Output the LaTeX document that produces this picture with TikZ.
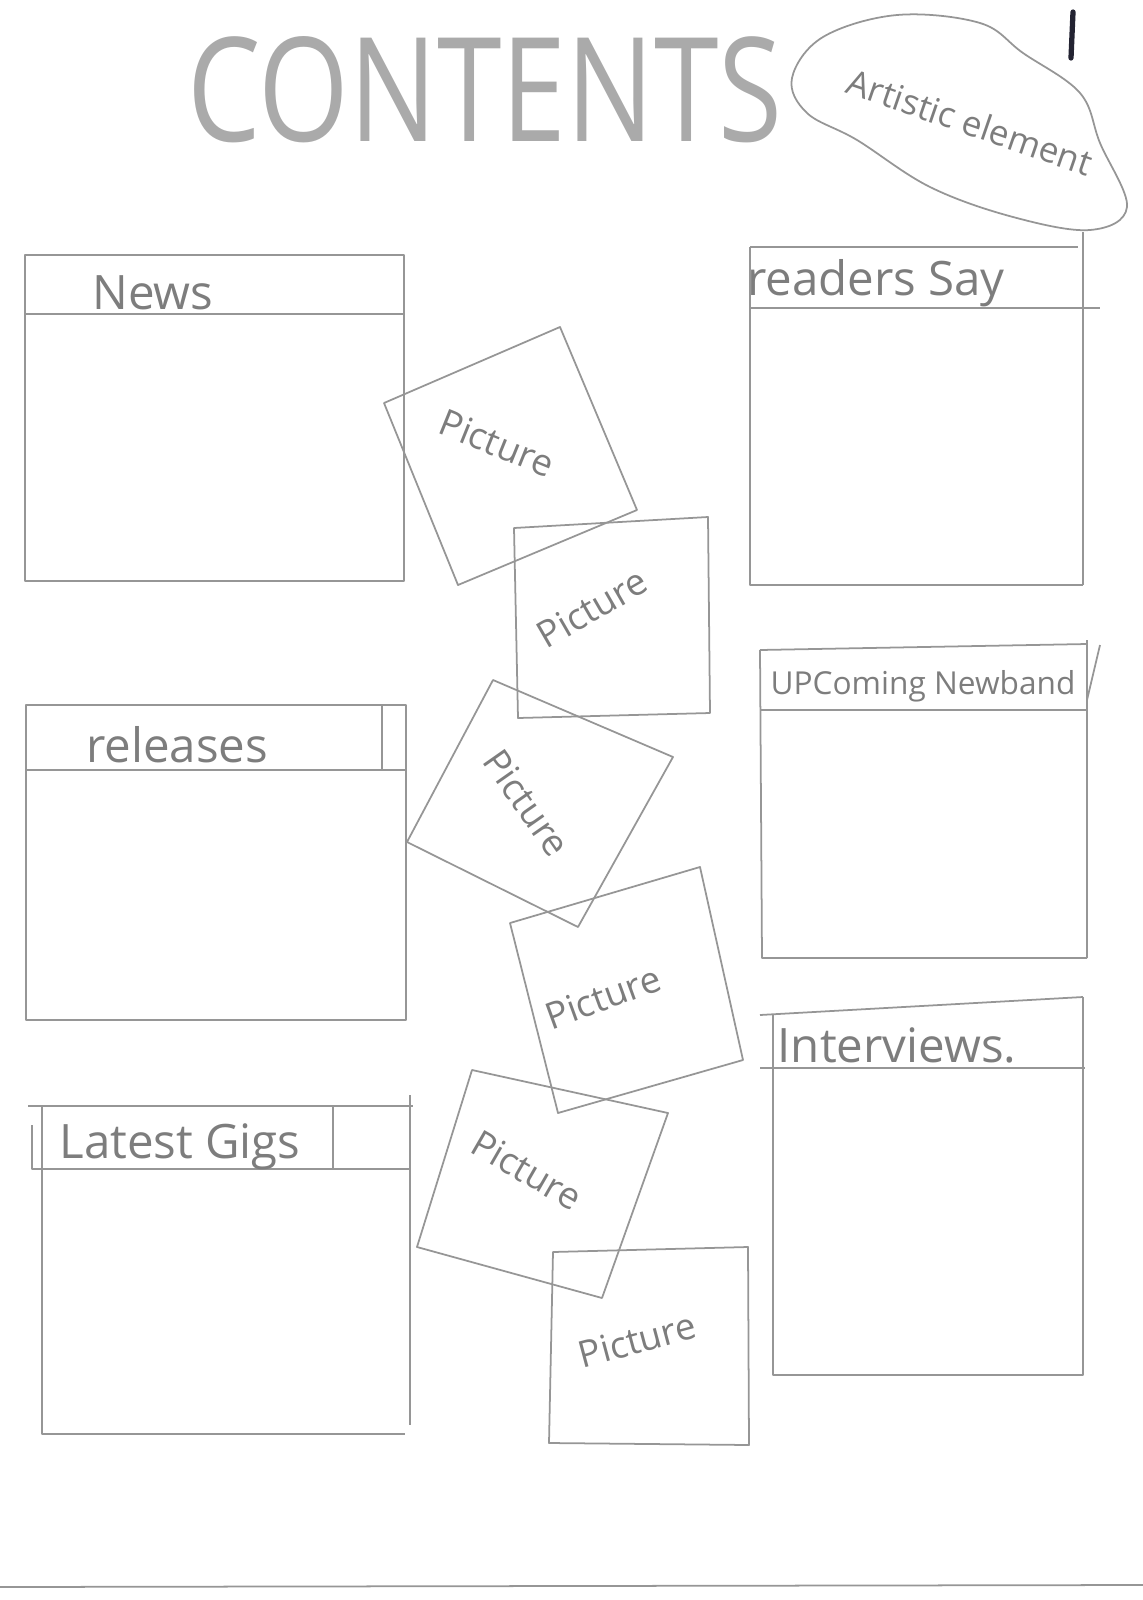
\documentclass[tikz,border=0pt]{standalone}
\usepackage{fontspec}
\setmainfont{Open Sans}
\definecolor{pencil}{RGB}{150,150,150}
\definecolor{lead}{RGB}{125,125,125}
\definecolor{faint}{RGB}{170,170,170}
\definecolor{ink}{RGB}{35,35,50}
\begin{document}
\begin{tikzpicture}[x=.02cm,y=-.02cm,
   line/.style={draw=pencil,line width=1pt,line join=round},
   head/.style={text=lead,inner sep=0pt,font=\fontsize{27}{30}\selectfont},
   pic/.style={text=lead,inner sep=0pt,font=\fontsize{21}{24}\selectfont}]
   \useasboundingbox (0,0) rectangle (1143,1600);
   \node[text=faint,inner sep=0pt,anchor=south west] (title) at (187,143) {\resizebox{11.9cm}{2.1cm}{CONTENTS}};
   \draw[line] plot[smooth cycle,tension=.6] coordinates {(792,78) (823,37) (897,15) (980,23) (1023,53) (1080,93) (1100,143) (1127,207) (1090,230) (1013,217) (930,187) (857,140) (807,113)};
   \node[head,font=\fontsize{20}{22}\selectfont,rotate=-19] (art) at (970,122) {Artistic element};
   \draw[draw=ink,line width=3pt,line cap=round] (1073,12) -- (1071,58);
   \draw[line] (25,255) rectangle (404,581);
   \draw[line] (25,314) -- (404,314);
   \node[head] (news) at (153,293) {News};
   \draw[line] (26,705) rectangle (406,1020);
   \draw[line] (26,770) -- (406,770);
   \draw[line] (382,705) -- (382,770);
   \node[head] (releases) at (177,745) {releases};
   \draw[line] (28,1106) -- (413,1106);
   \draw[line] (32,1125) -- (32,1169) -- (333,1169) -- (333,1106);
   \draw[line] (333,1169) -- (410,1169);
   \draw[line] (42,1106) -- (42,1434) -- (405,1434);
   \draw[line] (410,1095) -- (410,1425);
   \node[head] (gigs) at (180,1147) {Latest Gigs};
   \draw[line] (750,247) -- (1078,247);
   \draw[line] (750,308) -- (1100,308);
   \draw[line] (750,247) -- (750,585) -- (1083,585);
   \draw[line] (1083,232) -- (1083,585);
   \node[head] (readers) at (876,283) {readers Say};
   \draw[line] (760,650) -- (1087,644);
   \draw[line] (760,650) -- (762,958) -- (1087,958);
   \draw[line] (1087,640) -- (1087,958);
   \draw[line] (760,710) -- (1087,710);
   \draw[line] (1087,700) -- (1100,645);
   \node[head,font=\fontsize{18}{20}\selectfont] (upcoming) at (923,686) {UPComing Newband};
   \draw[line] (760,1015) -- (1083,997);
   \draw[line] (773,1015) -- (773,1375) -- (1083,1375) -- (1083,997);
   \draw[line] (760,1068) -- (1085,1068);
   \node[head] (interviews) at (897,1045) {Interviews.};
   \draw[line] (384,403) -- (560,327) -- (637,510) -- (458,585) -- cycle;
   \node[pic,rotate=-22] (pic1) at (497,443) {Picture};
   \draw[line] (514,528) -- (708,517) -- (710,713) -- (518,718) -- cycle;
   \node[pic,rotate=30] (pic2) at (592,608) {Picture};
   \draw[line] (493,680) -- (673,757) -- (578,927) -- (407,842) -- cycle;
   \node[pic,rotate=-55] (pic3) at (527,803) {Picture};
   \draw[line] (510,923) -- (700,867) -- (743,1060) -- (558,1113) -- cycle;
   \node[pic,rotate=20] (pic4) at (603,997) {Picture};
   \draw[line] (472,1070) -- (668,1113) -- (602,1298) -- (417,1247) -- cycle;
   \node[pic,rotate=-30] (pic5) at (527,1170) {Picture};
   \draw[line] (553,1252) -- (748,1247) -- (749,1445) -- (549,1443) -- cycle;
   \node[pic,rotate=15] (pic6) at (637,1340) {Picture};
   \draw[line] (0,1587) -- (1143,1585);
\end{tikzpicture}
\end{document}
